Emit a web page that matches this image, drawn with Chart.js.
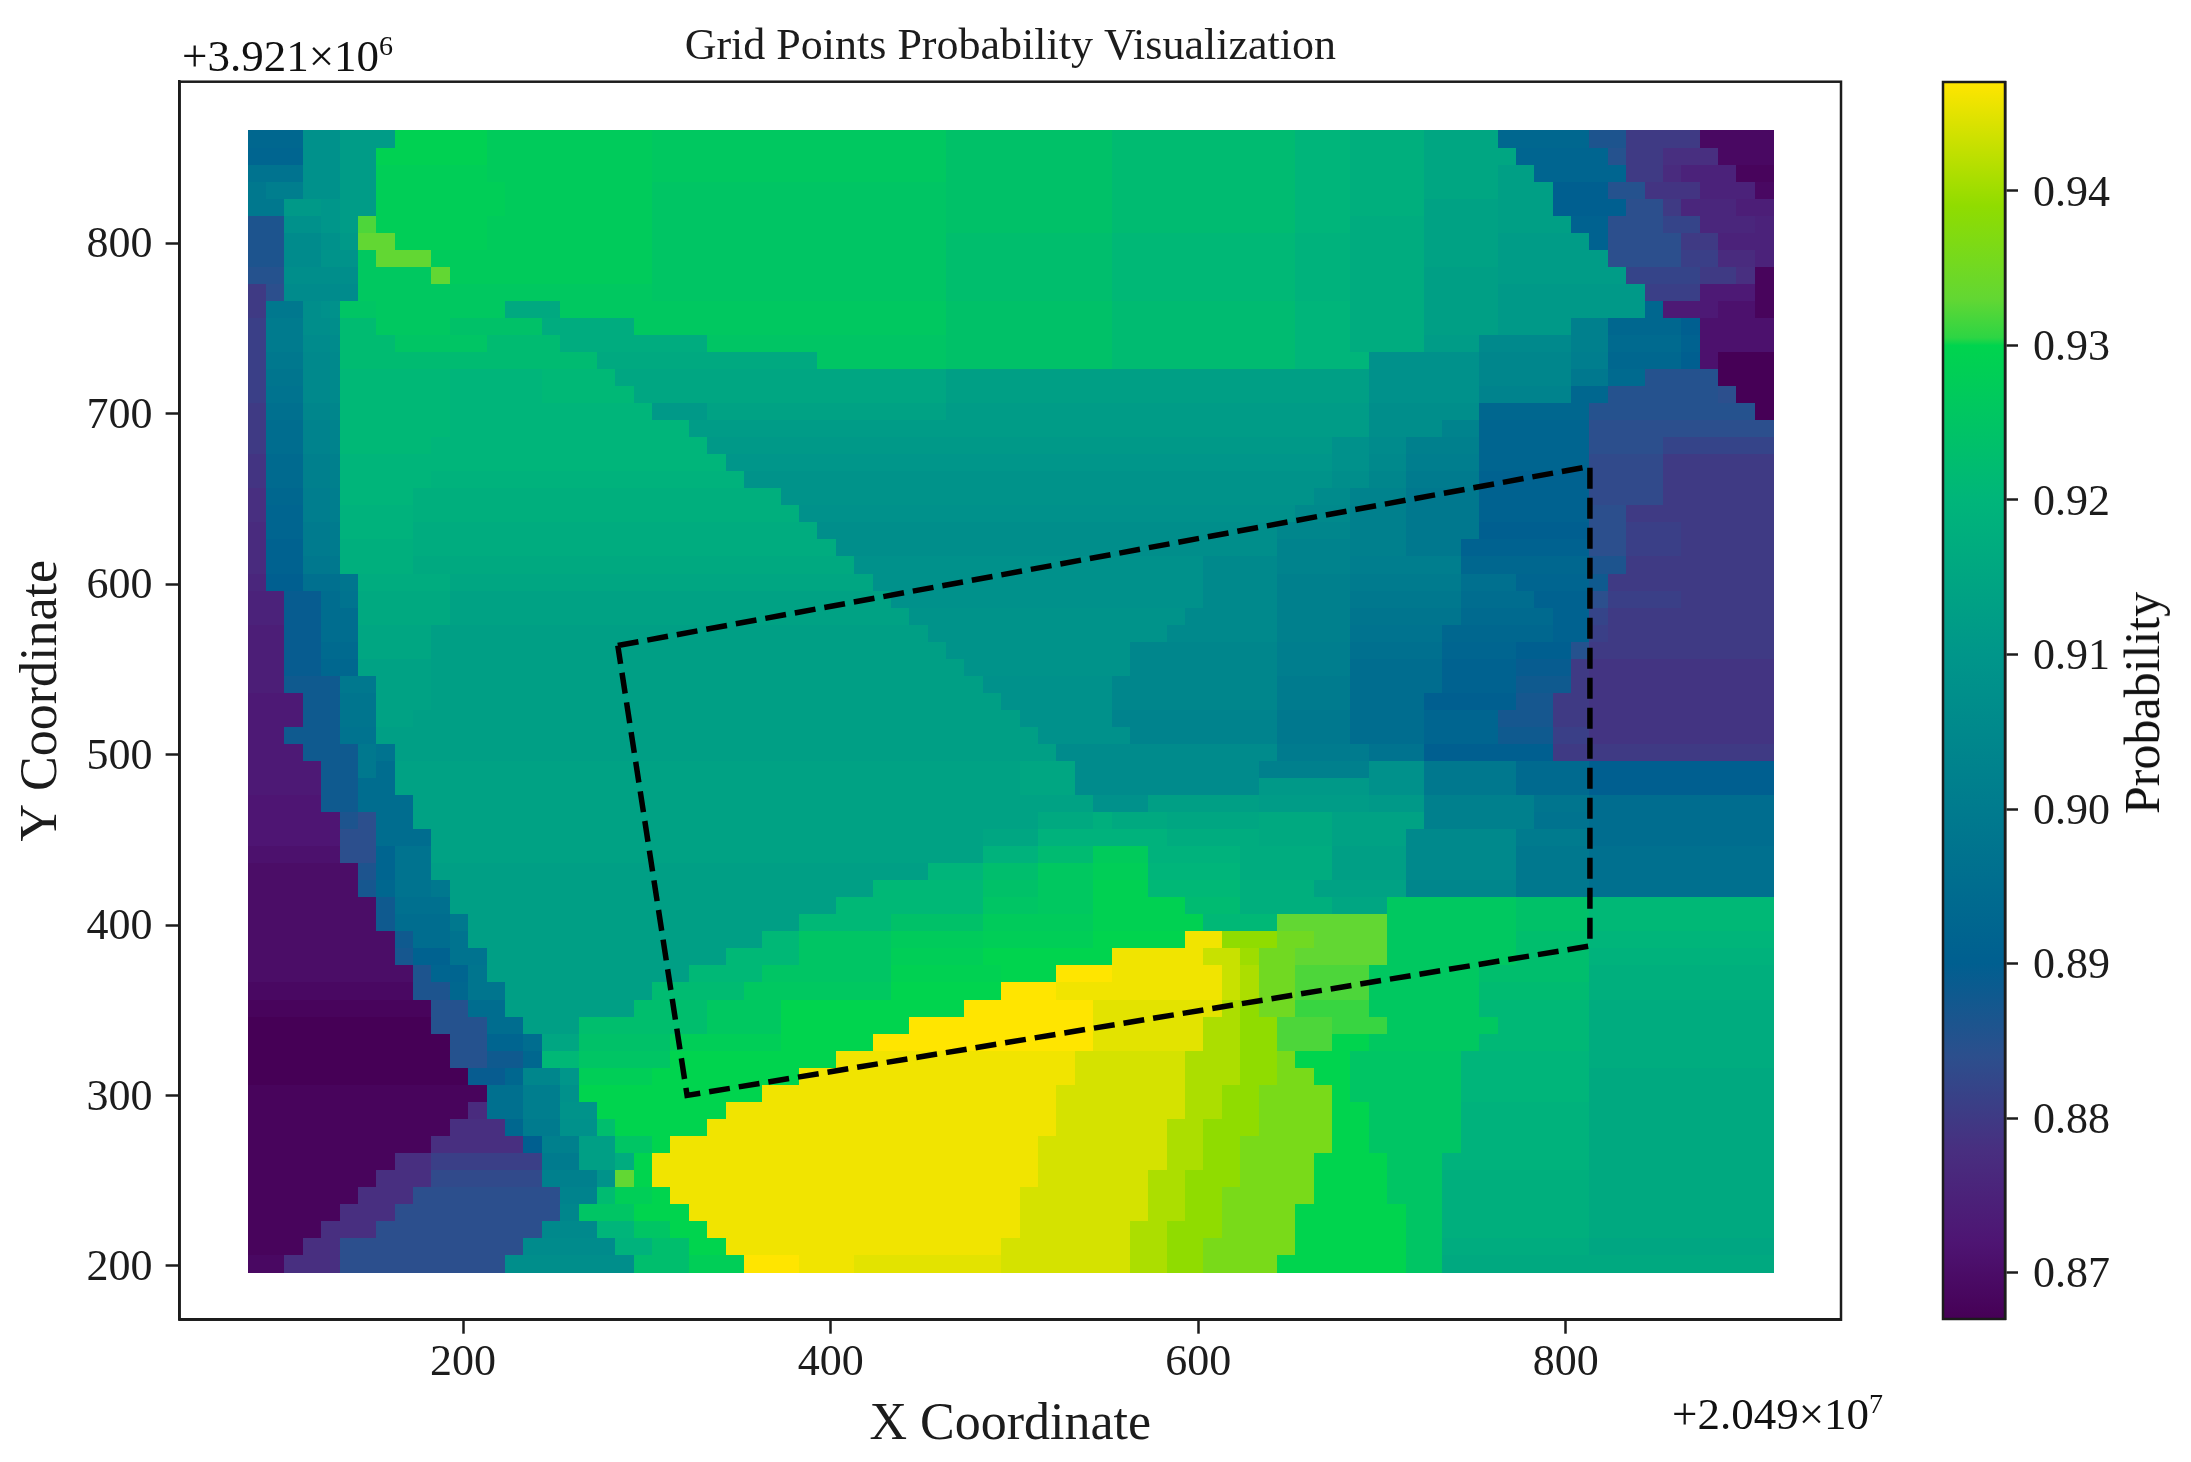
<!DOCTYPE html>
<html>
<head>
<meta charset="utf-8">
<title>Grid Points Probability Visualization</title>
<script src="https://cdn.jsdelivr.net/npm/chart.js@4/dist/chart.umd.min.js"></script>
<style>
  html, body { margin: 0; background: #fff; }
  #page { position: relative; width: 2191px; height: 1462px; overflow: hidden; font-family: "Liberation Serif", serif; color: #111; }
  canvas { position: absolute; top: 0; }
  #mainChart { left: 0; }
  #barChart { left: 1900px; }
  .note { position: absolute; font-size: 45px; line-height: 50px; white-space: nowrap; }
  .note sup { font-size: 28px; line-height: 0; }
  #barTitle { position: absolute; left: 2142px; top: 703px; font-size: 50px; line-height: 50px; transform: translate(-50%, -50%) rotate(-90deg); }
</style>
</head>
<body>
<div id="page">
  <canvas id="mainChart" width="2020" height="1462"></canvas>
  <canvas id="barChart" width="291" height="1462"></canvas>
  <div class="note" style="left:182px;top:31px">+3.921×10<sup>6</sup></div>
  <div class="note" style="left:1672px;top:1389px">+2.049×10<sup>7</sup></div>
  <div id="barTitle">Probability</div>
</div>
<script>
const xTicks = [200, 400, 600, 800];
const yTicks = [200, 300, 400, 500, 600, 700, 800];
const barTicks = [0.87, 0.88, 0.89, 0.90, 0.91, 0.92, 0.93, 0.94];

// dashed zone
const zoneX = [284.2, 813.1, 813.1, 321.9, 284.2];
const zoneY = [564, 669.2, 387.7, 300, 564];

// colour bar
const cmapValues = [0.867, 0.872, 0.878, 0.884, 0.890, 0.900, 0.910, 0.920, 0.930, 0.9305, 0.933, 0.939, 0.947];
const cmapColors = ['#460056', '#4e1573', '#482f80', '#2c4f8d', '#005f90', '#007b8e', '#00968a', '#00b57a', '#00d44e', '#2dd544', '#62d733', '#90dc00', '#ffe500'];

const cellX = 88;   // first column centre
const cellY = 201;  // first row centre
const cellStep = 10;
const columnCount = 83;

// one line per grid row, top row first: x where the run stops, probability in thousandths
const probRows = [
  [110,893,130,908,160,912,210,929,300,927,460,926,550,924,650,922,680,920,720,918,760,915,810,893,830,886,870,880,910,869],
  [110,892,130,908,150,912,210,929,300,927,460,926,550,924,650,922,680,920,720,918,770,915,820,892,830,885,850,880,880,878,910,869],
  [110,897,130,908,150,912,210,928,300,927,460,926,550,924,650,922,680,920,720,918,760,915,780,913,830,892,850,880,860,877,890,875,910,868],
  [90,899,110,901,130,908,150,912,220,928,300,927,460,925,550,924,650,922,680,920,720,918,760,915,790,913,820,890,840,885,870,879,900,875,910,869],
  [100,899,120,911,130,910,150,912,220,928,300,927,460,925,550,924,650,922,680,920,720,918,760,914,790,913,830,890,850,884,860,880,890,876,910,874],
  [100,886,120,908,130,910,140,912,150,932,210,928,300,927,460,925,550,924,650,922,680,920,720,917,760,914,800,913,820,891,850,884,870,882,900,876,910,875],
  [100,886,120,906,130,908,140,911,160,933,210,928,300,927,460,925,550,923,650,921,680,919,720,917,760,914,810,912,820,891,860,884,880,880,910,875],
  [100,886,120,906,140,909,150,926,180,933,200,927,300,927,460,925,550,923,650,921,680,919,720,917,760,914,820,912,860,884,880,881,900,877,910,875],
  [100,885,140,907,180,926,190,933,300,927,460,925,550,923,650,921,680,919,720,917,760,913,830,912,870,882,890,880,900,878,910,868],
  [90,880,100,884,140,906,300,926,460,925,550,923,650,921,680,919,720,917,760,913,840,911,870,881,900,873,910,868],
  [90,880,110,899,120,907,130,908,150,925,220,926,250,916,460,926,550,924,650,922,680,920,720,917,760,913,840,911,850,893,880,873,900,871,910,868],
  [90,881,110,900,130,907,150,922,190,926,240,924,290,917,460,926,550,924,650,922,680,920,720,917,760,913,800,911,820,902,860,893,870,890,910,871],
  [90,881,110,900,130,906,160,922,210,925,250,922,330,917,460,925,550,924,650,922,680,920,720,917,750,912,800,905,820,902,860,894,870,891,910,871],
  [90,881,110,899,130,905,210,922,270,922,390,916,460,925,550,924,650,922,690,920,750,908,800,904,820,901,860,893,870,890,880,871,910,867],
  [90,881,110,898,130,905,190,921,240,920,280,921,460,915,690,913,750,908,800,904,820,899,840,894,880,885,910,867],
  [90,881,110,897,130,905,190,921,240,920,290,921,460,915,690,913,750,908,800,903,820,893,880,885,890,884,910,867],
  [90,880,110,896,130,904,190,921,300,920,330,911,460,914,690,912,750,907,810,893,900,885,910,867],
  [90,880,110,895,130,903,190,921,320,920,390,912,690,912,730,907,750,903,810,892,910,884],
  [90,880,110,895,130,903,180,921,330,920,390,911,670,911,690,908,710,906,750,902,810,892,850,884,910,882],
  [90,879,110,894,130,902,180,920,340,920,670,910,690,908,710,905,750,901,810,892,850,883,910,880],
  [90,879,110,894,130,902,180,920,350,919,670,909,690,907,710,904,750,900,810,891,850,883,910,880],
  [90,878,110,893,130,901,170,920,370,918,660,909,680,906,710,903,750,899,810,891,850,883,910,880],
  [90,878,110,892,130,901,170,919,380,918,650,908,680,905,710,902,750,899,810,891,830,884,910,880],
  [90,877,110,892,130,900,170,919,390,917,640,907,680,904,710,902,750,899,810,890,830,884,860,881,910,880],
  [90,877,110,891,130,900,170,918,400,917,640,907,680,903,710,902,740,899,810,891,830,884,860,881,910,880],
  [90,877,110,891,130,899,170,918,410,916,600,908,640,905,680,903,740,901,810,893,830,886,910,880],
  [90,876,110,890,130,896,140,898,190,917,420,915,600,908,640,905,680,902,740,900,770,896,810,892,820,888,910,880],
  [100,875,120,889,130,895,140,897,190,916,430,914,600,908,640,905,680,902,740,899,780,895,810,891,820,884,860,881,910,880],
  [100,875,120,889,140,895,190,916,440,914,590,909,640,905,680,902,740,898,790,894,810,891,820,882,910,880],
  [100,874,120,889,140,895,180,915,450,913,580,909,640,905,680,902,730,897,790,893,810,891,820,881,910,880],
  [100,874,120,889,140,894,180,915,460,913,560,909,640,904,680,901,730,896,770,892,800,890,810,885,910,880],
  [100,874,120,889,140,893,180,914,470,913,560,909,640,904,680,901,730,895,770,891,800,889,810,880,910,879],
  [100,874,130,888,150,899,180,914,480,913,550,908,640,904,680,900,730,895,770,891,800,888,810,880,910,879],
  [110,873,130,888,150,898,180,914,490,913,550,908,640,904,680,900,720,895,770,890,790,887,810,880,910,879],
  [110,873,130,888,150,898,170,914,500,913,550,908,640,903,680,899,720,895,760,892,790,887,810,880,910,879],
  [100,873,130,888,150,897,510,913,560,908,640,903,680,899,720,895,760,892,790,888,810,881,910,879],
  [110,873,140,888,150,899,160,897,520,913,640,906,690,900,720,897,790,890,910,880],
  [120,873,140,888,150,899,160,895,500,914,530,915,630,906,690,902,720,908,770,899,810,894,910,890],
  [120,873,140,888,160,895,500,914,530,915,630,906,690,911,720,908,770,899,810,894,910,890],
  [120,872,140,888,170,895,540,914,570,908,630,913,690,912,720,911,780,902,810,898,910,895],
  [130,872,140,886,150,884,170,895,510,914,540,916,550,918,580,916,630,915,670,916,720,914,780,902,810,897,910,895],
  [130,872,150,884,180,895,480,914,510,915,580,919,630,917,670,916,710,914,770,905,810,900,910,895],
  [130,871,150,884,160,892,180,897,480,914,510,919,540,922,570,927,620,919,670,917,710,913,770,905,810,899,910,896],
  [140,870,150,886,160,892,180,897,450,913,480,920,510,923,540,926,570,928,620,920,670,917,710,913,770,905,810,899,910,896],
  [140,870,150,887,160,893,180,897,190,899,420,913,480,921,510,924,540,926,570,929,620,921,660,918,710,914,770,904,810,899,910,896],
  [150,870,160,888,190,896,400,913,480,921,510,925,540,926,590,929,620,922,670,918,700,915,770,926,810,924,910,921],
  [150,870,160,888,190,895,200,899,380,913,430,921,480,924,540,927,600,929,640,921,700,933,770,926,810,924,910,921],
  [160,870,170,888,190,895,200,897,360,913,380,921,430,925,480,927,540,928,590,930,610,946,640,939,660,935,700,933,770,926,810,923,910,920],
  [160,870,170,887,190,891,210,897,340,913,380,921,430,925,480,928,550,930,600,946,620,943,630,940,650,935,700,933,770,926,810,923,910,919],
  [170,870,180,886,200,892,210,898,320,913,360,921,430,925,490,929,520,930,550,947,610,946,620,943,630,941,650,935,690,932,750,926,810,923,910,918],
  [170,869,190,886,200,893,220,898,300,913,350,922,430,926,490,930,520,947,610,946,620,943,630,941,650,935,690,932,750,926,810,922,910,918],
  [180,868,200,885,220,895,290,913,330,923,370,926,470,930,540,947,610,945,620,941,630,939,650,935,690,931,750,926,810,921,910,917],
  [180,867,210,885,230,895,260,913,330,923,370,926,440,930,540,947,600,945,620,941,640,939,670,932,700,931,760,926,810,921,910,917],
  [190,867,210,885,230,892,240,895,260,915,310,924,370,928,420,930,540,947,600,945,620,941,640,939,670,932,690,930,750,926,810,921,910,917],
  [190,867,210,885,230,888,240,893,260,921,310,925,400,930,530,946,590,944,620,941,640,939,650,936,680,930,740,925,810,920,910,917],
  [200,867,220,889,230,893,250,904,260,910,300,928,380,930,530,946,590,944,620,941,640,939,660,936,680,930,740,925,810,920,910,916],
  [210,868,230,896,250,901,260,908,360,930,520,946,590,944,610,941,630,939,670,936,680,930,740,925,810,920,910,916],
  [200,868,210,877,230,896,250,901,270,909,340,930,520,946,590,944,610,941,630,939,670,936,690,930,740,925,810,919,910,916],
  [190,868,220,878,230,893,250,900,270,908,280,923,330,930,520,946,580,944,600,941,630,939,670,936,690,930,740,925,810,919,910,916],
  [180,868,230,878,240,890,260,902,280,913,300,925,310,930,510,946,580,944,600,941,620,939,670,936,690,930,740,925,810,919,910,916],
  [160,868,180,878,240,881,260,900,280,913,290,917,300,930,510,946,580,944,600,941,620,939,660,936,700,930,730,925,810,919,910,916],
  [150,868,180,878,240,883,270,902,280,909,290,933,300,930,510,946,570,944,590,941,620,939,660,936,700,930,730,925,810,918,910,916],
  [140,868,170,878,250,884,270,903,280,922,300,928,310,930,500,946,570,944,590,941,610,939,660,936,700,930,730,925,810,918,910,916],
  [130,868,160,878,250,884,260,904,290,925,320,930,500,946,570,944,590,941,610,939,650,936,710,930,730,925,810,918,910,916],
  [120,868,150,878,240,884,270,905,290,920,310,925,330,930,500,946,560,944,580,941,610,939,650,936,710,930,730,925,810,918,910,916],
  [110,868,130,878,230,884,280,906,300,919,320,923,340,930,490,946,560,944,580,941,600,939,650,936,710,930,730,925,810,917,910,915],
  [100,869,130,878,220,884,290,907,320,923,350,928,380,947,410,946,490,945,560,944,580,941,600,939,640,936,710,930,730,925,910,916]
];

const hexToRgb = hex => [1, 3, 5].map(i => parseInt(hex.slice(i, i + 2), 16));

const colorFor = value => {
    let i = 0;
    while (i < cmapValues.length - 2 && value > cmapValues[i + 1]) i++;
    const t = Math.min(1, Math.max(0, (value - cmapValues[i]) / (cmapValues[i + 1] - cmapValues[i])));
    const a = hexToRgb(cmapColors[i]);
    const b = hexToRgb(cmapColors[i + 1]);
    return `rgb(${a.map((c, k) => Math.round(c + (b[k] - c) * t)).join(',')})`;
};

// rectangular markers, one small canvas per colour
const cellSprites = {};
const spriteFor = value => {
    if (!cellSprites[value]) {
        const c = document.createElement('canvas');
        c.width = 19;
        c.height = 18;
        const g = c.getContext('2d');
        g.fillStyle = colorFor(value);
        g.fillRect(0, 0, 19, 18);
        cellSprites[value] = c;
    }
    return cellSprites[value];
};

// unroll the runs into one point per cell
const cellPoints = [];
probRows.forEach((runs, r) => {
    const y = cellY + cellStep * (probRows.length - 1 - r);
    let at = 0;
    for (let c = 0; c < columnCount; c++) {
        const x = cellX + cellStep * c;
        while (x > runs[at]) at += 2;
        cellPoints.push({ x, y, v: runs[at + 1] / 1000 });
    }
});

const zonePoints = zoneX.map((x, i) => ({ x, y: zoneY[i] }));

const ink = '#1c1c1c';
const tickFont = { family: '"Liberation Serif"', size: 44 };

const framePlugin = {
    id: 'frame',
    afterDraw(chart) {
        const { left, top, width, height } = chart.chartArea;
        const ctx = chart.ctx;
        ctx.save();
        ctx.strokeStyle = ink;
        ctx.lineWidth = 2.5;
        ctx.strokeRect(left, top, width, height);
        ctx.restore();
    }
};

new Chart(document.getElementById('mainChart'), {
    type: 'scatter',
    data: {
        datasets: [
            {
                data: zonePoints,
                showLine: true,
                fill: false,
                borderColor: '#000',
                borderWidth: 5.5,
                borderDash: [21, 9],
                pointRadius: 0,
                tension: 0
            },
            {
                data: cellPoints,
                pointRadius: 1,
                pointStyle: ctx => spriteFor(ctx.raw.v)
            }
        ]
    },
    options: {
        responsive: false,
        animation: false,
        devicePixelRatio: 1,
        events: [],
        layout: { padding: { right: 179 } },
        plugins: {
            legend: { display: false },
            tooltip: { enabled: false },
            title: {
                display: true,
                fullSize: false,
                text: 'Grid Points Probability Visualization',
                color: ink,
                font: { family: '"Liberation Serif"', size: 44, weight: 'normal', lineHeight: 1.2 },
                padding: { top: 21, bottom: 7.9 }
            }
        },
        scales: {
            x: {
                type: 'linear',
                min: 45.8,
                max: 949.7,
                afterBuildTicks: s => { s.ticks = xTicks.map(value => ({ value })); },
                afterFit: s => { s.height = 142.3; },
                grid: { drawOnChartArea: false, tickLength: 14, tickColor: ink, tickWidth: 2.5 },
                border: { color: ink, width: 2.5 },
                ticks: { color: ink, font: tickFont, padding: 3, maxRotation: 0, callback: v => v },
                title: { display: true, text: 'X Coordinate', color: ink, font: { family: '"Liberation Serif"', size: 52, lineHeight: 1.2 }, padding: { top: 11, bottom: 5 } }
            },
            y: {
                type: 'linear',
                min: 168.4,
                max: 894.9,
                afterBuildTicks: s => { s.ticks = yTicks.map(value => ({ value })); },
                afterFit: s => { s.width = 179.6; },
                grid: { drawOnChartArea: false, tickLength: 14, tickColor: ink, tickWidth: 2.5 },
                border: { color: ink, width: 2.5 },
                ticks: { color: ink, font: tickFont, padding: 13, labelOffset: 2.5, callback: v => v },
                title: { display: true, text: 'Y Coordinate', color: ink, font: { family: '"Liberation Serif"', size: 52, lineHeight: 1.2 }, padding: { top: 11, bottom: 0 } }
            }
        }
    },
    plugins: [framePlugin]
});

// colour bar: one floating bar filled with the colour scale
const barMin = 0.867;
const barMax = 0.94705;

const barGradient = ctx => {
    const area = ctx.chart.chartArea;
    if (!area) return cmapColors[0];
    const g = ctx.chart.ctx.createLinearGradient(0, area.bottom, 0, area.top);
    cmapValues.forEach((v, i) => g.addColorStop(Math.min(1, (v - barMin) / (barMax - barMin)), cmapColors[i]));
    return g;
};

new Chart(document.getElementById('barChart'), {
    type: 'bar',
    data: {
        labels: ['Probability'],
        datasets: [{
            data: [[barMin, barMax]],
            backgroundColor: barGradient,
            barPercentage: 1,
            categoryPercentage: 1
        }]
    },
    options: {
        responsive: false,
        animation: false,
        devicePixelRatio: 1,
        events: [],
        layout: { padding: { left: 43, top: 82, bottom: 143 } },
        plugins: { legend: { display: false }, tooltip: { enabled: false } },
        scales: {
            x: { display: false },
            y: {
                position: 'right',
                min: barMin,
                max: barMax,
                afterBuildTicks: s => { s.ticks = barTicks.map(value => ({ value })); },
                afterFit: s => { s.width = 186; },
                grid: { drawOnChartArea: false, tickLength: 13, tickColor: ink, tickWidth: 2.5 },
                border: { color: ink, width: 2.5 },
                ticks: { color: ink, font: tickFont, padding: 15, labelOffset: 3, callback: v => v.toFixed(2) }
            }
        }
    },
    plugins: [framePlugin]
});
</script>
</body>
</html>
